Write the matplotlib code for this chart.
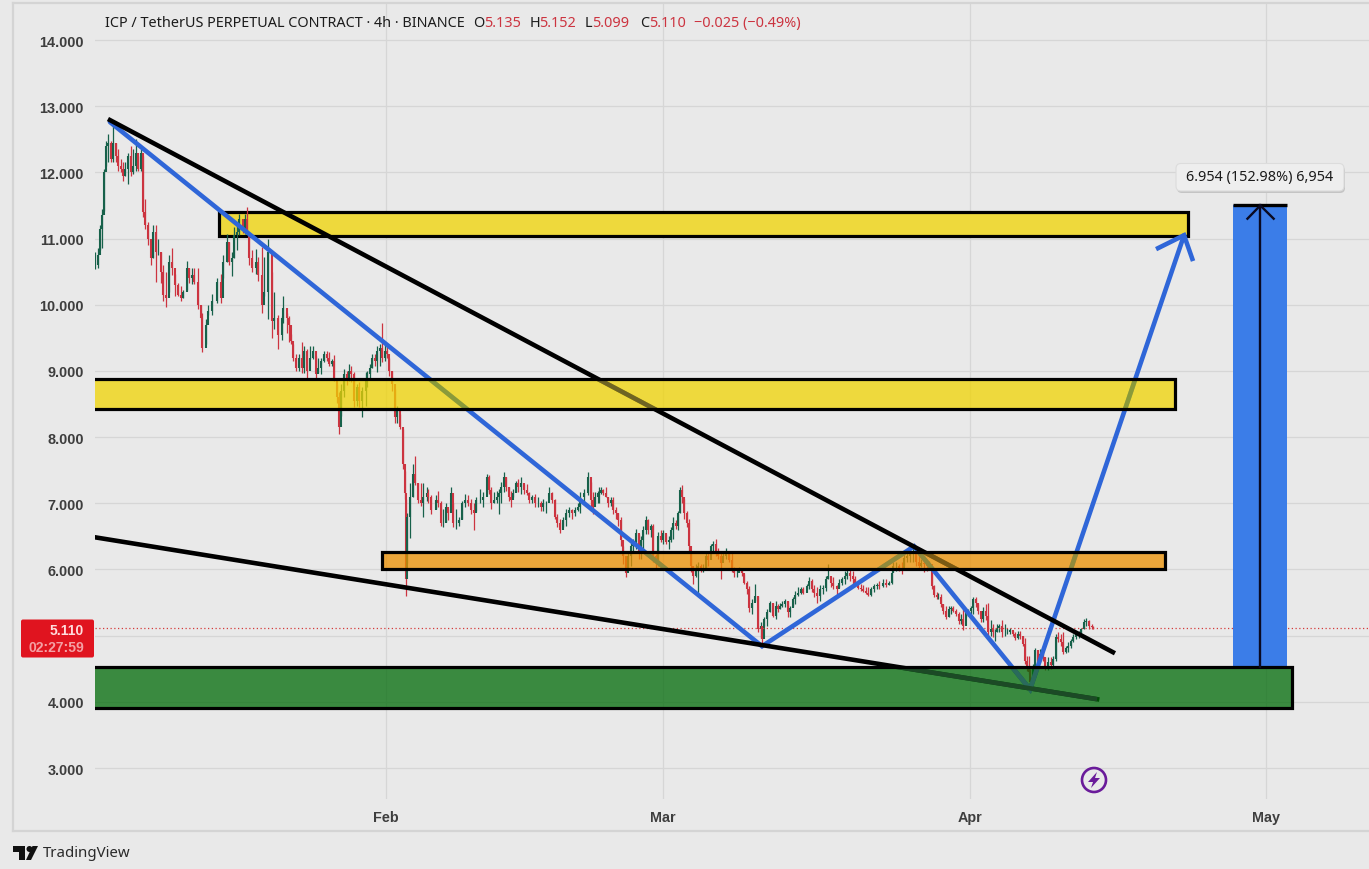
import matplotlib
matplotlib.use("Agg")
import matplotlib.pyplot as plt
from matplotlib.patches import Rectangle, FancyBboxPatch, Circle, Polygon
from matplotlib.colors import to_rgba
from matplotlib.transforms import Affine2D

# ---------- candles: day offset from 1 Jan, high, low, close ----------
bar_day = [
 1.58,1.91,2.08,2.32,2.52,2.69,2.86,3.16,3.43,3.7,3.93,4.17,4.44,4.61,4.95,5.18,5.45,5.69,5.96,6.23,6.46,6.63,6.97,7.2,7.47,7.71,7.98,8.22,8.49,8.75,9.09,9.33,9.66,10.0,10.24,10.51,10.84,11.08,11.35,11.59,12.02,12.26,12.43,12.77,13.03,13.37,13.88,14.28,14.48,14.89,15.16,15.39,15.66,15.9,16.14,16.51,16.74,16.91,17.18,17.48,17.82,18.09,18.43,18.66,19.1,19.44,19.67,20.11,20.45,20.62,20.95,21.19,
 21.36,21.63,21.9,22.17,22.47,22.74,23.05,23.32,23.59,23.89,24.16,24.43,24.73,25.0,25.27,25.54,25.74,26.01,26.21,26.48,26.79,27.02,27.23,27.49,27.76,28.03,28.3,28.61,28.94,29.11,29.38,29.58,29.89,30.12,30.39,30.6,30.9,31.13,31.34,31.64,31.88,32.15,32.42,32.68,32.92,33.02,33.16,33.43,33.7,33.93,34.27,34.54,34.77,35.11,
 35.28,35.52,36.06,36.23,36.53,36.73,37.04,37.31,37.54,37.81,38.08,38.35,38.65,38.99,39.33,39.6,39.87,40.14,40.51,40.78,41.18,41.38,41.65,41.96,42.26,42.46,42.66,42.9,43.14,43.41,43.64,43.88,44.15,44.38,44.69,44.96,45.23,45.5,45.77,46.07,46.34,46.64,46.91,47.18,47.48,47.75,48.09,48.33,48.6,48.93,49.17,49.51,49.84,50.11,50.38,50.62,51.02,51.46,51.73,51.9,52.13,52.47,
 52.55,52.71,52.98,53.21,53.48,53.75,53.99,54.26,54.49,54.73,55.0,55.24,55.51,55.74,56.01,56.28,56.55,56.79,57.02,57.29,57.53,57.76,58.03,58.3,58.54,58.81,59.04,59.31,59.58,59.82,60.06,60.32,60.56,60.73,60.93,61.17,61.4,61.61,61.84,62.08,62.35,62.58,62.82,63.09,63.32,63.59,63.83,64.1,64.37,64.6,64.87,65.11,65.38,65.68,65.95,66.22,66.46,66.73,66.96,67.2,67.47,67.74,68.04,68.31,68.65,68.88,68.99,69.22,69.49,69.83,70.17,70.43,70.67,
 70.83,71.07,71.34,71.61,71.84,72.11,72.38,72.69,72.92,73.19,73.53,73.8,74.07,74.3,74.61,74.88,75.15,75.45,75.72,75.99,76.23,76.56,76.83,77.1,77.37,77.64,77.91,78.18,78.45,78.69,78.99,79.26,79.53,79.76,80.03,80.34,80.61,80.88,81.21,81.52,81.85,82.12,82.29,82.53,82.86,83.13,83.37,83.71,83.98,84.31,84.58,84.85,85.12,85.43,85.69,85.93,86.17,86.44,86.74,
 86.85,87.09,87.36,87.63,87.9,88.13,88.37,88.64,88.91,89.18,89.38,89.62,89.89,90.12,90.39,90.63,90.9,91.17,91.4,91.67,91.91,92.14,92.35,92.58,92.82,93.02,93.29,93.56,93.83,94.1,94.37,94.6,94.87,95.11,95.38,95.62,95.85,96.05,96.15,96.39,96.63,96.9,97.13,97.4,97.67,97.94,98.21,98.48,98.72,98.99,99.26,99.49,99.73,100.0,100.23,100.5,100.77,101.04,101.31,101.55,101.82,102.09,102.36,102.52,
]
bar_high = [
 10.8,10.85,11.2,11.45,12.05,12.48,12.58,12.48,12.7,12.45,12.35,12.2,12.15,12.15,12.3,12.4,12.35,12.5,12.25,12.35,12.25,11.6,11.25,10.95,11.2,11.2,11.0,10.8,10.6,10.5,10.75,10.85,10.46,10.33,10.28,10.23,10.66,10.55,10.55,10.55,10.55,10.0,9.88,9.78,10.0,10.16,10.4,10.46,10.75,11.07,10.95,10.8,11.17,11.2,11.37,11.3,11.37,11.47,11.09,10.82,10.84,10.72,10.87,10.72,11.0,10.5,10.2,9.85,9.83,10.13,9.88,9.83,
 9.56,9.4,9.25,9.25,9.43,9.38,9.33,9.38,9.38,9.23,9.2,9.2,9.3,9.3,9.28,9.18,9.24,8.8,8.68,8.8,9.03,9.0,9.1,9.08,8.98,8.8,8.83,8.75,8.98,9.0,9.1,9.25,9.25,9.38,9.4,9.73,9.4,9.38,9.2,9.0,8.73,8.47,8.35,8.12,7.49,7.06,6.86,7.3,7.6,7.72,7.3,7.3,7.3,7.24,
 7.22,7.12,7.12,7.19,7.04,6.91,7.0,6.91,7.24,7.0,6.91,6.79,7.04,7.14,7.12,7.07,7.0,7.09,7.22,7.17,7.44,7.42,7.24,7.17,7.19,7.22,7.32,7.47,7.39,7.24,7.19,7.22,7.34,7.37,7.39,7.29,7.29,7.17,7.12,7.14,7.09,7.04,7.07,7.04,7.24,7.17,7.07,6.84,6.76,6.79,6.91,6.94,6.91,6.94,7.0,7.17,7.22,7.47,7.32,7.17,7.17,7.19,
 7.24,7.24,7.22,7.24,7.09,7.09,7.09,6.94,6.86,6.79,6.36,6.21,6.26,6.43,6.46,6.61,6.53,6.51,6.66,6.81,6.76,6.69,6.69,6.23,6.56,6.59,6.59,6.53,6.51,6.64,6.79,6.74,6.89,7.24,7.27,7.07,6.89,6.76,6.26,6.06,6.08,6.11,6.08,6.08,6.26,6.26,6.38,6.43,6.46,6.33,6.26,6.28,6.33,6.28,6.26,6.03,6.01,6.03,6.01,5.93,5.83,5.75,5.55,5.78,5.6,5.2,5.15,5.28,5.4,5.53,5.5,5.53,5.48,
 5.5,5.53,5.55,5.53,5.45,5.58,5.68,5.73,5.73,5.73,5.78,5.88,5.86,5.76,5.73,5.76,5.76,5.9,6.08,5.88,5.88,5.76,5.86,5.88,5.98,6.01,6.01,5.98,5.9,5.8,5.78,5.76,5.73,5.73,5.73,5.78,5.8,5.83,5.86,5.86,5.83,5.98,6.11,6.11,6.08,6.11,6.23,6.26,6.31,6.33,6.31,6.23,6.16,6.13,6.11,6.13,6.03,5.76,5.66,
 5.65,5.63,5.48,5.45,5.45,5.45,5.45,5.4,5.35,5.33,5.4,5.4,5.4,5.45,5.58,5.58,5.48,5.35,5.43,5.48,5.5,5.23,5.18,5.1,5.18,5.18,5.23,5.18,5.12,5.12,5.07,5.05,5.07,5.07,4.99,4.97,4.7,4.7,4.5,4.57,4.82,4.7,4.8,4.82,4.67,4.67,4.67,4.7,5.02,5.05,5.02,5.05,4.85,4.9,4.95,5.02,5.06,5.07,5.12,5.25,5.27,5.23,5.18,5.152,
]
bar_low = [
 10.54,10.55,10.82,10.85,11.42,12.1,12.15,12.15,12.15,12.15,12.02,12.0,11.87,11.95,11.82,11.95,11.97,12.02,12.02,12.02,11.32,11.15,10.9,10.6,10.7,10.35,10.75,10.33,10.06,9.96,10.2,10.45,10.13,10.13,10.06,10.1,10.23,10.33,10.31,10.31,9.93,9.78,9.28,9.4,9.85,9.85,10.03,10.03,10.4,10.64,10.6,10.44,10.7,10.82,11.05,11.09,11.07,11.07,10.6,10.49,10.46,10.36,9.88,10.13,9.78,9.5,9.63,9.33,9.47,9.73,9.58,9.43,
 9.41,9.15,9.0,9.0,8.97,8.97,8.9,9.18,9.18,8.9,8.97,8.95,9.13,9.15,9.08,9.08,8.85,8.52,8.05,8.32,8.6,8.78,8.85,8.83,8.45,8.47,8.45,8.3,8.47,8.75,8.88,9.05,9.08,8.98,9.08,9.13,9.15,9.2,8.93,8.7,8.22,8.22,8.12,7.52,7.06,5.6,6.1,6.48,7.1,7.27,7.0,6.96,6.8,7.04,
 7.0,6.84,6.91,6.94,6.66,6.64,6.71,6.74,6.89,6.64,6.61,6.66,6.76,6.94,6.96,6.84,6.6,6.89,7.0,6.94,7.17,7.14,6.91,7.0,7.0,6.84,7.0,7.17,7.19,7.04,6.94,7.09,7.17,7.17,7.14,7.14,7.12,7.0,7.0,6.94,6.94,6.89,6.89,6.86,7.07,7.0,6.76,6.64,6.55,6.64,6.66,6.79,6.76,6.81,6.89,6.86,7.0,7.12,6.89,6.84,7.0,7.0,
 7.01,7.14,7.12,7.09,6.94,6.96,6.84,6.76,6.66,6.36,6.08,5.88,6.01,6.06,6.28,6.31,6.16,6.16,6.28,6.53,6.53,6.49,6.11,6.01,6.06,6.41,6.39,6.39,6.31,6.41,6.46,6.61,6.59,6.86,7.01,6.76,6.64,6.26,5.96,5.78,5.88,5.63,5.96,5.96,6.03,6.06,6.23,6.26,6.21,6.16,5.86,6.16,6.16,6.11,5.96,5.88,5.88,5.96,5.9,5.78,5.63,5.35,5.33,5.53,5.05,4.97,4.85,5.15,5.15,5.35,5.28,5.25,5.35,
 5.4,5.43,5.43,5.28,5.28,5.45,5.48,5.6,5.63,5.63,5.7,5.7,5.66,5.58,5.5,5.53,5.63,5.68,5.86,5.73,5.7,5.6,5.73,5.76,5.78,5.86,5.83,5.78,5.76,5.7,5.68,5.66,5.63,5.6,5.6,5.66,5.7,5.7,5.74,5.73,5.76,5.78,5.96,5.98,5.98,5.93,6.06,6.11,6.11,6.11,6.06,6.0,6.03,5.96,5.98,6.0,5.7,5.58,5.55,
 5.55,5.43,5.33,5.25,5.28,5.33,5.35,5.3,5.18,5.18,5.08,5.28,5.3,5.33,5.33,5.43,5.33,5.2,5.2,5.23,4.98,5.0,4.98,4.92,5.05,5.05,4.98,5.0,5.02,5.02,5.0,4.94,4.95,4.95,4.85,4.57,4.47,4.42,4.17,4.37,4.55,4.55,4.6,4.62,4.48,4.48,4.5,4.52,4.62,4.9,4.85,4.72,4.74,4.75,4.82,4.9,4.95,4.97,5.02,5.1,5.15,5.1,5.1,5.099,
]
bar_close = [
 10.6,10.75,11.15,11.35,12.0,12.4,12.45,12.2,12.45,12.25,12.1,12.05,11.95,12.05,12.25,12.0,12.1,12.3,12.05,12.3,11.4,11.2,11.0,10.7,11.1,10.8,10.8,10.5,10.15,10.1,10.65,10.55,10.3,10.15,10.1,10.2,10.55,10.4,10.45,10.35,10.0,9.8,9.35,9.7,9.9,10.05,10.35,10.1,10.65,10.95,10.65,10.7,11.05,11.1,11.3,11.15,11.3,11.1,10.7,10.55,10.65,10.45,10.0,10.2,10.8,9.75,9.8,9.55,9.8,9.95,9.8,9.7,
 9.45,9.2,9.05,9.2,9.05,9.3,9.0,9.2,9.3,8.95,9.05,9.15,9.25,9.2,9.1,9.15,8.9,8.6,8.15,8.7,8.95,8.9,9.0,8.95,8.55,8.75,8.55,8.7,8.9,8.95,9.05,9.2,9.15,9.3,9.35,9.2,9.3,9.25,9.0,8.8,8.3,8.4,8.15,7.6,7.15,5.85,6.8,7.1,7.45,7.3,7.05,7.0,7.1,7.15,
 7.1,6.9,7.05,7.0,6.7,6.7,6.95,6.85,7.15,6.7,6.7,6.75,7.0,7.05,7.0,6.9,6.85,7.05,7.05,7.1,7.4,7.2,7.0,7.05,7.1,7.15,7.25,7.4,7.25,7.1,7.05,7.15,7.3,7.25,7.3,7.2,7.15,7.05,7.1,7.0,7.0,6.95,7.0,7.0,7.15,7.05,6.8,6.7,6.6,6.75,6.85,6.9,6.85,6.9,6.95,7.1,7.15,7.4,7.05,6.95,7.1,7.15,
 7.15,7.2,7.15,7.1,7.0,7.05,6.9,6.85,6.75,6.45,6.2,5.95,6.2,6.35,6.4,6.55,6.25,6.45,6.6,6.75,6.6,6.65,6.2,6.1,6.5,6.45,6.55,6.42,6.45,6.6,6.7,6.65,6.85,7.2,7.1,6.85,6.7,6.35,6.05,5.9,6.0,6.05,6.0,6.02,6.2,6.15,6.35,6.38,6.25,6.2,6.1,6.2,6.25,6.15,6.0,5.95,5.95,5.98,5.95,5.8,5.7,5.42,5.5,5.6,5.1,5.15,4.95,5.25,5.35,5.5,5.3,5.45,5.4,
 5.45,5.48,5.52,5.35,5.42,5.55,5.62,5.65,5.7,5.65,5.75,5.82,5.7,5.65,5.6,5.7,5.72,5.85,5.9,5.8,5.75,5.7,5.8,5.85,5.9,5.95,5.9,5.85,5.8,5.72,5.7,5.68,5.65,5.62,5.7,5.75,5.76,5.75,5.8,5.76,5.8,5.95,6.05,6.05,6.02,6.0,6.18,6.2,6.25,6.28,6.12,6.05,6.1,6.08,6.05,6.08,5.75,5.62,5.58,
 5.58,5.48,5.38,5.28,5.4,5.42,5.38,5.33,5.22,5.25,5.15,5.35,5.38,5.42,5.55,5.5,5.38,5.25,5.38,5.3,5.05,5.1,5.05,5.05,5.12,5.15,5.05,5.05,5.05,5.08,5.02,4.97,5.03,5.0,4.88,4.62,4.5,4.45,4.3,4.52,4.78,4.6,4.72,4.68,4.52,4.6,4.55,4.65,4.98,4.95,4.9,4.75,4.82,4.85,4.92,4.98,5.02,5.04,5.1,5.2,5.22,5.15,5.135,5.11,
]

# ---------- axis ----------
price_ticks = [3, 4, 5, 6, 7, 8, 9, 10, 11, 12, 13, 14]
price_labels = ["3.000", "4.000", "", "6.000", "7.000", "8.000", "9.000",
                "10.000", "11.000", "12.000", "13.000", "14.000"]
month_days = [31, 59, 90, 120]
month_labels = ["Feb", "Mar", "Apr", "May"]
last_price = 5.110

# ---------- drawings ----------
yellow_top = dict(day0=14.11, day1=112.09, low=11.04, high=11.40)
yellow_mid = dict(day0=1.0, day1=110.78, low=8.42, high=8.88)
orange_mid = dict(day0=30.6, day1=109.77, low=6.0, high=6.26)
green_low = dict(day0=1.0, day1=122.6, low=3.91, high=4.53)
target_bar = dict(day0=116.64, day1=122.1, low=4.53, high=11.50)
target_mid_day = 119.4
upper_trend_days = [3.09, 104.5]
upper_trend_prices = [12.79, 4.75]
lower_trend_days = [1.0, 102.9]
lower_trend_prices = [6.50, 4.04]
zigzag_days = [3.09, 69.02, 84.39, 96.12, 111.69]
zigzag_prices = [12.76, 4.84, 6.35, 4.19, 11.05]
arrow_days = [108.86, 111.69, 112.6]
arrow_prices = [10.84, 11.05, 10.66]
chevron_days = [118.1, 119.4, 120.75]
chevron_prices = [11.30, 11.50, 11.30]

# ---------- colours ----------
BG = "#e9e9e9"
GRID = "#d6d6d6"
RED = "#cc3440"
GREEN = "#17614a"
BLUE = "#2f66d8"
FONT = "Noto Sans"
BOLD = "Liberation Sans"
EDGE_LW = 2.3

W, H = 1369, 870
fig = plt.figure(figsize=(W / 100, H / 100), dpi=100, facecolor=BG)
pxT = Affine2D().scale(1, -1).translate(0, H)

ax = fig.add_axes([95 / W, 1 - 800 / H, (W - 95) / W, (800 - 5) / H], facecolor=BG)
ax.set_xlim(1.576, 130.39)
ax.set_ylim(2.532, 14.544)
for s in ax.spines.values():
    s.set_visible(False)

ax.set_yticks(price_ticks, price_labels)
ax.set_xticks(month_days, month_labels)
ax.grid(True, color=GRID, lw=0.9, zorder=0)
ax.set_axisbelow(True)
ax.tick_params(axis="both", length=0, colors="#3e3e3e")
ax.tick_params(axis="y", pad=8, labelsize=10.4)
ax.tick_params(axis="x", pad=8, labelsize=10.4)
for t in ax.get_xticklabels() + ax.get_yticklabels():
    t.set_fontfamily(BOLD)
    t.set_fontweight("bold")


def zone(spec, face, alpha, z, edge="none"):
    rect = Rectangle((spec["day0"], spec["low"]), spec["day1"] - spec["day0"],
                     spec["high"] - spec["low"],
                     facecolor=to_rgba(face, alpha), edgecolor=edge,
                     lw=EDGE_LW, zorder=z, clip_on=True)
    ax.add_patch(rect)
    return rect


def tinted(days, prices, color, lw, rect):
    # the part of a line that shows through a translucent zone
    line, = ax.plot(days, prices, color=color, lw=lw, zorder=4.5,
                    solid_capstyle="butt", solid_joinstyle="miter")
    inner = Rectangle(rect.get_xy(), rect.get_width(), rect.get_height(),
                      transform=ax.transData)
    line.set_clip_path(inner)


# candles: each candle opens at the previous close
bar_open = [bar_close[0]] + bar_close[:-1]
colors = [GREEN if c >= o else RED for o, c in zip(bar_open, bar_close)]
ax.vlines(bar_day, bar_low, bar_high, colors=colors, lw=0.9, zorder=2)
ax.vlines(bar_day, bar_open, bar_close, colors=colors, lw=1.5, zorder=2)

ax.axhline(last_price, color="#d43b3b", lw=0.9, ls=(0, (1, 2)), zorder=2)

LW = 3.3
zone(yellow_top, "#eed93c", 1.0, 1.5, edge="black")
ax.plot(zigzag_days, zigzag_prices, color=BLUE, lw=LW, solid_joinstyle="miter",
        solid_capstyle="round", zorder=3)
ax.plot(arrow_days, arrow_prices, color=BLUE, lw=LW, solid_joinstyle="miter",
        solid_capstyle="butt", zorder=3)
ax.plot(upper_trend_days, upper_trend_prices, color="black", lw=LW, zorder=3.1)
ax.plot(lower_trend_days, lower_trend_prices, color="black", lw=LW, zorder=3.1)

rect_y = zone(yellow_mid, "#f0d403", 0.75, 4)
rect_o = zone(orange_mid, "#ec9000", 0.75, 4)
rect_g = zone(green_low, "#006a08", 0.75, 4)
for rect, tint_blue, tint_black in ((rect_y, "#8a9a3a", "#6e6424"),
                                    (rect_o, "#8f8a3c", "#7a5a14"),
                                    (rect_g, "#2a6a5c", "#1c4a26")):
    tinted(zigzag_days, zigzag_prices, tint_blue, LW, rect)
    tinted(upper_trend_days, upper_trend_prices, tint_black, LW, rect)
    tinted(lower_trend_days, lower_trend_prices, tint_black, LW, rect)
# zone outlines stay solid black above the tinted line parts
for spec in (yellow_mid, orange_mid, green_low):
    ax.add_patch(Rectangle((spec["day0"], spec["low"]), spec["day1"] - spec["day0"],
                           spec["high"] - spec["low"], facecolor="none",
                           edgecolor="black", lw=EDGE_LW, zorder=4.7))

# target bar
ax.add_patch(Rectangle((target_bar["day0"], target_bar["low"]),
                       target_bar["day1"] - target_bar["day0"],
                       target_bar["high"] - target_bar["low"],
                       facecolor="#3b7de8", edgecolor="none", zorder=4))
ax.plot([target_bar["day0"], target_bar["day1"]], [target_bar["high"]] * 2,
        color="black", lw=2.4, solid_capstyle="butt", zorder=5)
ax.plot([target_mid_day, target_mid_day], [target_bar["low"], target_bar["high"]],
        color="#0a0a22", lw=1.7, zorder=5)
ax.plot(chevron_days, chevron_prices, color="#0a0a22", lw=1.7, zorder=5)

# outer frame of the widget
for xs, ys in (([13, 13], [4, 832]), ([13, W], [4, 4]), ([13, W], [832, 832])):
    ax.plot(xs, ys, color="#d4d4d4", lw=1.6, transform=pxT, clip_on=False, zorder=1)

# legend line
ax.text(105, 24, "ICP / TetherUS PERPETUAL CONTRACT · 4h · BINANCE", transform=pxT,
        fontsize=10.4, color="#1b1b1b", family=FONT, va="center", clip_on=False, zorder=9)
for x, s, c in [(473, "O", "#1b1b1b"), (484, "5.135", RED), (530, "H", "#1b1b1b"),
                (539, "5.152", RED), (585, "L", "#1b1b1b"), (592, "5.099", RED),
                (640, "C", "#1b1b1b"), (649, "5.110", RED),
                (694, "−0.025 (−0.49%)", RED)]:
    ax.text(x, 24, s, transform=pxT, fontsize=10.4, color=c, family=FONT,
            va="center", clip_on=False, zorder=9)

# last-price tag
ax.add_patch(FancyBboxPatch((21, 620.5), 73, 38, boxstyle="round,pad=0,rounding_size=2",
                            facecolor="#e0141f", edgecolor="none", transform=pxT,
                            clip_on=False, zorder=9))
ax.text(84, 631, "5.110", transform=pxT, color="#ffdcdc", fontsize=10, family=BOLD,
        weight="bold", ha="right", va="center", clip_on=False, zorder=10)
ax.text(84, 648, "02:27:59", transform=pxT, color="#f4a0a4", fontsize=10, family=BOLD,
        weight="bold", ha="right", va="center", clip_on=False, zorder=10)

# measure tooltip
ax.add_patch(FancyBboxPatch((1177, 167), 168, 27, boxstyle="round,pad=0,rounding_size=5",
                            facecolor="#c4c4c4", edgecolor="none", transform=pxT,
                            clip_on=False, zorder=9))
ax.add_patch(FancyBboxPatch((1176, 164.5), 168, 27.5, boxstyle="round,pad=0,rounding_size=5",
                            facecolor="#eeeeee", edgecolor="#dcdcdc", lw=0.8, transform=pxT,
                            clip_on=False, zorder=9.1))
ax.text(1260, 178, "6.954 (152.98%) 6,954", transform=pxT, color="#1b1b1b", fontsize=10.4,
        family=FONT, ha="center", va="center", clip_on=False, zorder=10)

# lightning badge
ax.add_patch(Circle((1094, 781), 12, facecolor="none", edgecolor="#6a1b9a", lw=1.9,
                    transform=pxT, clip_on=False, zorder=9))
ax.add_patch(Polygon([(1097, 773), (1088, 783), (1093, 783), (1091, 789), (1100, 779),
                      (1095, 779)], closed=True, facecolor="#6a1b9a", edgecolor="none",
                     transform=pxT, clip_on=False, zorder=9))

# TradingView mark
ax.add_patch(Polygon([(13, 847), (25, 847), (25, 861), (19, 861), (19, 853), (13, 853)],
                     closed=True, facecolor="#111111", edgecolor="none", transform=pxT,
                     clip_on=False, zorder=9))
ax.add_patch(Circle((29.5, 850), 3, facecolor="#111111", edgecolor="none", transform=pxT,
                    clip_on=False, zorder=9))
ax.add_patch(Polygon([(32.5, 847), (38, 847), (31, 861), (26, 861)], closed=True,
                     facecolor="#111111", edgecolor="none", transform=pxT,
                     clip_on=False, zorder=9))
ax.text(43, 854, "TradingView", transform=pxT, color="#2a2a2a", fontsize=10.8,
        family="Noto Sans", va="center", clip_on=False, zorder=9)

fig.savefig("out.png", dpi=100, facecolor=BG)
